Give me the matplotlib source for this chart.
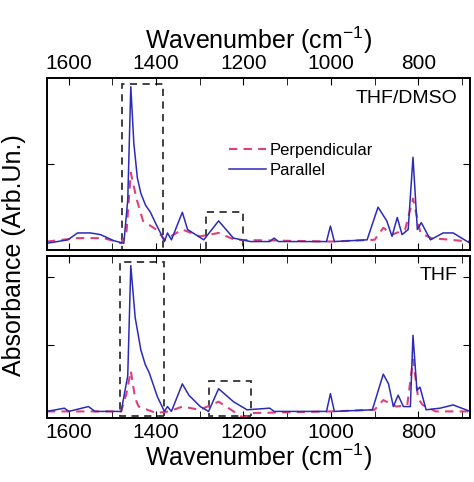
import matplotlib
matplotlib.use("Agg")
import matplotlib.pyplot as plt
from matplotlib.patches import Rectangle
from matplotlib.ticker import MultipleLocator

plt.rcParams["font.family"] = ["Liberation Sans", "DejaVu Sans"]
plt.rcParams["mathtext.fontset"] = "custom"
plt.rcParams["mathtext.rm"] = "Liberation Sans"

# THF/DMSO, parallel
top_par_x = [1650, 1602, 1580, 1550, 1527, 1497, 1474, 1465, 1458, 1451, 1443, 1435, 1424, 1413,
             1400, 1390, 1381, 1374, 1365, 1340, 1328, 1291, 1257, 1223, 1184, 1140, 1130, 1120,
             1010, 1001, 992, 917, 892, 872, 860, 848, 837, 823, 812, 802, 793, 772, 743, 720, 681]
top_par_y = [0.04, 0.06, 0.10, 0.10, 0.09, 0.055, 0.04, 0.29, 0.95, 0.62, 0.42, 0.33, 0.26, 0.22,
             0.15, 0.10, 0.05, 0.10, 0.06, 0.22, 0.12, 0.06, 0.17, 0.07, 0.05, 0.05, 0.07, 0.05,
             0.05, 0.14, 0.05, 0.06, 0.25, 0.17, 0.08, 0.19, 0.09, 0.12, 0.54, 0.12, 0.16, 0.06,
             0.10, 0.10, 0.04]
# THF/DMSO, perpendicular
top_perp_x = [1650, 1580, 1520, 1480, 1468, 1458, 1445, 1430, 1400, 1380, 1340, 1300, 1257, 1220,
              1000, 900, 880, 860, 830, 812, 795, 770, 681]
top_perp_y = [0.05, 0.07, 0.07, 0.04, 0.10, 0.45, 0.30, 0.17, 0.12, 0.06, 0.12, 0.08, 0.10, 0.06,
              0.05, 0.06, 0.13, 0.09, 0.12, 0.30, 0.10, 0.07, 0.05]

# THF, parallel
bot_par_x = [1650, 1610, 1600, 1555, 1540, 1480, 1465, 1458, 1448, 1435, 1425, 1416, 1397, 1381,
             1374, 1365, 1340, 1325, 1299, 1280, 1257, 1223, 1192, 1140, 1130, 1010, 1001, 992,
             905, 880, 868, 857, 846, 834, 818, 812, 803, 796, 782, 750, 720, 681]
bot_par_y = [0.04, 0.06, 0.04, 0.07, 0.04, 0.04, 0.26, 0.94, 0.62, 0.42, 0.33, 0.28, 0.13, 0.04,
             0.07, 0.04, 0.21, 0.14, 0.07, 0.04, 0.18, 0.10, 0.05, 0.06, 0.04, 0.04, 0.15, 0.04,
             0.05, 0.27, 0.21, 0.07, 0.14, 0.07, 0.07, 0.51, 0.17, 0.19, 0.05, 0.06, 0.08, 0.04]
# THF, perpendicular
bot_perp_x = [1650, 1480, 1468, 1458, 1448, 1440, 1400, 1370, 1340, 1300, 1257, 1200, 1180, 1000,
              900, 880, 850, 825, 812, 800, 790, 760, 681]
bot_perp_y = [0.04, 0.04, 0.15, 0.29, 0.12, 0.07, 0.03, 0.04, 0.07, 0.05, 0.10, 0.00, 0.03, 0.04,
              0.05, 0.11, 0.07, 0.08, 0.36, 0.12, 0.08, 0.04, 0.04]

# dashed boxes (x0, x1, y0, y1)
top_boxes = [(1477, 1385, 0.0, 0.965), (1285, 1202, 0.0, 0.22)]
bot_boxes = [(1483, 1381, 0.01, 0.96), (1280, 1183, 0.01, 0.23)]

blue = "#2b2bb8"
pink = "#e0407a"

fig = plt.figure(figsize=(4.74, 4.82), dpi=100)
ax_top = fig.add_axes([0.099, 0.481, 0.893, 0.357])
ax_bot = fig.add_axes([0.099, 0.133, 0.893, 0.336])

panels = [
    (ax_top, top_par_x, top_par_y, top_perp_x, top_perp_y, top_boxes, "THF/DMSO", [0.5]),
    (ax_bot, bot_par_x, bot_par_y, bot_perp_x, bot_perp_y, bot_boxes, "THF", [0.45, 0.87]),
]
for ax, px, py, qx, qy, boxes, label, yt in panels:
    ax.plot(qx, qy, "--", color=pink, lw=1.5, dashes=(4, 3), label="Perpendicular")
    ax.plot(px, py, "-", color=blue, lw=1.1, label="Parallel")
    for x0, x1, y0, y1 in boxes:
        ax.add_patch(Rectangle((x1, y0), x0 - x1, y1 - y0, fill=False,
                               ls=(0, (4, 3)), lw=1.3, ec="#333333"))
    ax.set_xlim(1650, 681)
    ax.set_ylim(0, 1)
    ax.set_yticks(yt)
    ax.set_yticklabels([])
    ax.xaxis.set_major_locator(MultipleLocator(200))
    ax.xaxis.set_minor_locator(MultipleLocator(100))
    ax.tick_params(which="both", direction="in", top=True, right=True, labelsize=15, length=5)
    ax.text(0.97, 0.88, label, transform=ax.transAxes, ha="right", va="center", fontsize=14)
    for s in ax.spines.values():
        s.set_linewidth(1.4)

ax_top.tick_params(labelbottom=False, labeltop=True)
ax_top.xaxis.set_label_position("top")
ax_top.set_xlabel("Wavenumber (cm$^{-1}$)", fontsize=18)
ax_top.legend(loc="center", bbox_to_anchor=(0.6, 0.52), frameon=False, fontsize=12,
              handlelength=2.2, handletextpad=0.2, labelspacing=0.3)
ax_bot.set_xlabel("Wavenumber (cm$^{-1}$)", fontsize=18, labelpad=0)
fig.text(0.03, 0.47, "Absorbance (Arb.Un.)", rotation=90, ha="center", va="center", fontsize=18)

fig.savefig("out.png", dpi=100)
